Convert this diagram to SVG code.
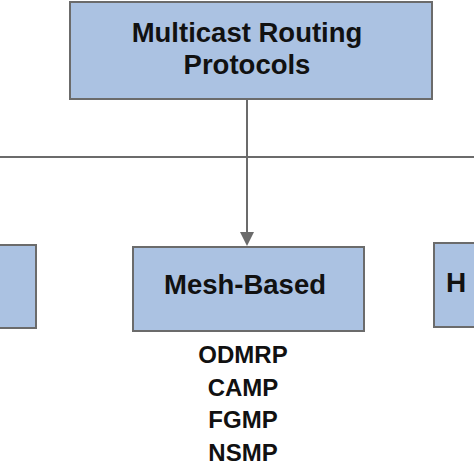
<svg xmlns="http://www.w3.org/2000/svg" width="474" height="474" viewBox="0 0 474 474">
<defs>
<style>
.box{fill:#abc2e2;stroke:#6b6b6b;stroke-width:2}
.t{font-family:"Liberation Sans",Arial,sans-serif;font-weight:bold;fill:#111;text-anchor:middle}
.ln{stroke:#6b6b6b;stroke-width:2;fill:none}
</style>
</defs>
<g id="connectors">
<line class="ln" x1="0" y1="157" x2="474" y2="157"/>
<line class="ln" x1="247" y1="99" x2="247" y2="233"/>
<path d="M240,232 L254,232 L247,246 Z" fill="#6b6b6b"/>
</g>
<g id="root">
<rect class="box" x="70" y="2" width="362" height="97"/>
<text class="t" x="247" y="42" font-size="27.5">Multicast Routing</text>
<text class="t" x="247" y="74" font-size="27.5">Protocols</text>
</g>
<g id="left">
<rect class="box" x="-20" y="245" width="56" height="83"/>
</g>
<g id="mesh">
<rect class="box" x="133" y="247" width="231" height="84"/>
<text class="t" x="245" y="294" font-size="27.5">Mesh-Based</text>
</g>
<g id="right">
<rect class="box" x="434" y="243" width="60" height="84"/>
<text class="t" x="456" y="292" font-size="28" text-anchor="start">H</text>
</g>
<g id="list">
<text class="t" x="243" y="363" font-size="24">ODMRP</text>
<text class="t" x="243" y="396" font-size="24">CAMP</text>
<text class="t" x="243" y="428" font-size="24">FGMP</text>
<text class="t" x="243" y="461" font-size="24">NSMP</text>
</g>
</svg>
